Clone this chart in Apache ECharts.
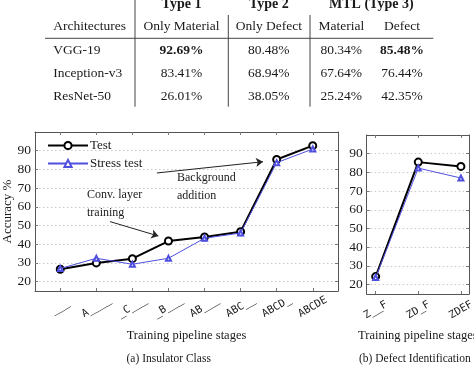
<!DOCTYPE html>
<html><head><meta charset="utf-8">
<script src="https://cdn.jsdelivr.net/npm/echarts@6/dist/echarts.min.js"></script>
<style>html,body{margin:0;padding:0;background:#fff}#c{width:474px;height:365px}</style>
</head><body><div id="c"></div>
<script>
// ---- Table data ----
const typeHeaders = ['Type 1', 'Type 2', 'MTL (Type 3)'];
const colHeaders = ['Architectures', 'Only Material', 'Only Defect', 'Material', 'Defect'];
const archs = ['VGG-19', 'Inception-v3', 'ResNet-50'];
const onlyMaterial = ['92.69%', '83.41%', '26.01%'];
const onlyDefect = ['80.48%', '68.94%', '38.05%'];
const mtlMaterial = ['80.34%', '67.64%', '25.24%'];
const mtlDefect = ['85.48%', '76.44%', '42.35%'];
const boldCells = ['92.69%', '85.48%'];

// ---- Chart (a) data ----
const stagesA = ['___', 'A____', '_C___', '_B___', 'AB___', 'ABC__', 'ABCD_', 'ABCDE'];
const testA = [26.6, 30.0, 32.3, 41.7, 43.9, 46.7, 85.3, 92.7];
const stressA = [27.0, 32.5, 29.3, 32.5, 43.2, 46.0, 83.6, 90.9];

// ---- Chart (b) data ----
const stagesB = ['Z__F', 'ZD_F', 'ZDEF'];
const testB = [24.3, 85.5, 83.2];
const stressB = [23.8, 82.3, 77.0];

const yTicks = [20, 30, 40, 50, 60, 70, 80, 90];

const SERIF = '"Liberation Serif", "DejaVu Serif", serif';
const MONO = '"DejaVu Sans Mono", "Liberation Mono", monospace';
const TXT = '#1a1a1a';
const FRAME = '#555';

const chart = echarts.init(document.getElementById('c'), null, {renderer: 'canvas'});

function pts(arr) { return arr.map((v, i) => [i, v]); }

// ---- table graphics ----
const colX = [181.5, 268.8, 341.3, 402];
const typeX = [181.5, 268.8, 371.3];
const rowY = [50.7, 73.3, 96.7];
const g = [];
function txt(s, x, y, align, bold, size, rot) {
  g.push({type: 'text', x: x, y: y, rotation: rot || 0, silent: true,
    style: {text: s, fill: TXT, font: (bold ? 'bold ' : '') + (size || 13.5) + 'px ' + SERIF,
      textAlign: align || 'center', textVerticalAlign: 'middle'}});
}
function line(x1, y1, x2, y2) {
  g.push({type: 'line', silent: true, shape: {x1, y1, x2, y2}, style: {stroke: '#444', lineWidth: 1}});
}
typeHeaders.forEach((s, i) => txt(s, typeX[i], 4, 'center', true, 14));
txt(colHeaders[0], 53.3, 26.7, 'left');
colHeaders.slice(1).forEach((s, i) => txt(s, colX[i], 26.7, 'center'));
line(45, 38.3, 433.3, 38.3);
line(135, 0, 135, 106.7);
line(228.3, 15, 228.3, 106.7);
line(310, 15, 310, 106.7);
const cols = [onlyMaterial, onlyDefect, mtlMaterial, mtlDefect];
archs.forEach((a, r) => {
  txt(a, 53.3, rowY[r], 'left');
  cols.forEach((c, ci) => txt(c[r], colX[ci], rowY[r], 'center', boldCells.includes(c[r])));
});
// annotations
txt('Conv. layer', 87, 195, 'left', false, 12);
txt('training', 87, 213, 'left', false, 12);
txt('Background', 177, 178, 'left', false, 12);
txt('addition', 177, 196, 'left', false, 12);
// captions
txt('(a) Insulator Class', 168.7, 359, 'center', false, 11.5);
txt('(b) Defect Identification', 359, 359, 'left', false, 11.5);

function xAxisCfg(gridIndex, labels, min, max, pos, showLabel, name, nameGap) {
  const vals = labels.map((_, i) => i);
  return {
    type: 'value', gridIndex, min, max, position: pos,
    name: name || '', nameLocation: 'middle', nameGap: nameGap || 0, nameMoveOverlap: false,
    nameTextStyle: {fontFamily: SERIF, fontSize: 12.5, color: TXT, verticalAlign: 'middle'},
    axisLine: {show: true, onZero: false, lineStyle: {color: FRAME, width: 1}},
    axisTick: {show: true, inside: true, length: 3, customValues: vals, lineStyle: {color: '#777'}},
    axisLabel: {show: showLabel, customValues: vals, rotate: 30, align: 'center', verticalAlign: 'middle',
      margin: 16, fontFamily: MONO, fontSize: 10.5, color: TXT, hideOverlap: false,
      formatter: v => labels[Math.round(v)]},
    splitLine: {show: false}
  };
}
function yAxisCfg(gridIndex, pos, showLabel, name) {
  return {
    type: 'value', gridIndex, min: 15, max: 100, position: pos,
    name: name || '', nameLocation: 'middle', nameGap: 27, nameMoveOverlap: false,
    nameTextStyle: {fontFamily: SERIF, fontSize: 13, color: TXT, verticalAlign: 'middle'},
    axisLine: {show: true, onZero: false, lineStyle: {color: FRAME, width: 1}},
    axisTick: {show: true, inside: true, length: 3, customValues: yTicks, lineStyle: {color: '#777'}},
    axisLabel: {show: showLabel, customValues: yTicks, margin: 4, fontFamily: SERIF, fontSize: 13.5, color: TXT},
    splitLine: {show: showLabel, lineStyle: {color: '#c8c8c8', type: [1.5, 2.5], width: 1}}
  };
}

const testStyle = {
  type: 'line', symbol: 'emptyCircle', symbolSize: 7,
  lineStyle: {color: '#000', width: 2}, itemStyle: {color: '#000', borderWidth: 2},
  z: 3
};
const stressStyle = {
  type: 'line', symbol: 'emptyTriangle', symbolSize: 5,
  lineStyle: {color: '#5050e0', width: 1}, itemStyle: {color: '#5050e0', borderWidth: 1},
  z: 4
};

const option = {
  animation: false,
  backgroundColor: '#fff',
  grid: [
    {left: 35, top: 132, width: 303, height: 159, show: false, containLabel: false, outerBoundsMode: 'none'},
    {left: 366.7, top: 135, width: 102.3, height: 159, show: false, containLabel: false, outerBoundsMode: 'none'}
  ],
  xAxis: [
    xAxisCfg(0, stagesA, -0.7, 7.7, 'bottom', true, 'Training pipeline stages', 45),
    xAxisCfg(0, stagesA, -0.7, 7.7, 'top', false),
    xAxisCfg(1, stagesB, -0.21, 2.19, 'bottom', true, 'Training pipeline stages', 42),
    xAxisCfg(1, stagesB, -0.21, 2.19, 'top', false)
  ],
  yAxis: [
    yAxisCfg(0, 'left', true, 'Accuracy %'),
    yAxisCfg(0, 'right', false),
    yAxisCfg(1, 'left', true),
    yAxisCfg(1, 'right', false)
  ],
  legend: {
    data: ['Test', 'Stress test'], orient: 'vertical', left: 42, top: 134,
    itemWidth: 40, itemHeight: 9, itemGap: 5,
    textStyle: {fontFamily: SERIF, fontSize: 13, color: TXT, padding: [0, 0, 0, -3]}
  },
  graphic: g,
  series: [
    Object.assign({}, testStyle, {name: 'Test', xAxisIndex: 0, yAxisIndex: 0, data: pts(testA),
      markLine: {silent: true, symbol: ['none', 'arrow'], symbolSize: 7, label: {show: false},
        lineStyle: {color: '#222', width: 1, type: 'solid'},
        data: [
          [{coord: [1.38, 52.1]}, {coord: [2.72, 44.4]}],
          [{coord: [2.68, 78.1]}, {coord: [5.62, 84.1]}]
        ]}}),
    Object.assign({}, stressStyle, {name: 'Stress test', xAxisIndex: 0, yAxisIndex: 0, data: pts(stressA)}),
    Object.assign({}, testStyle, {name: 'Test', xAxisIndex: 2, yAxisIndex: 2, data: pts(testB)}),
    Object.assign({}, stressStyle, {name: 'Stress test', xAxisIndex: 2, yAxisIndex: 2, data: pts(stressB)})
  ]
};
chart.setOption(option);
</script></body></html>
